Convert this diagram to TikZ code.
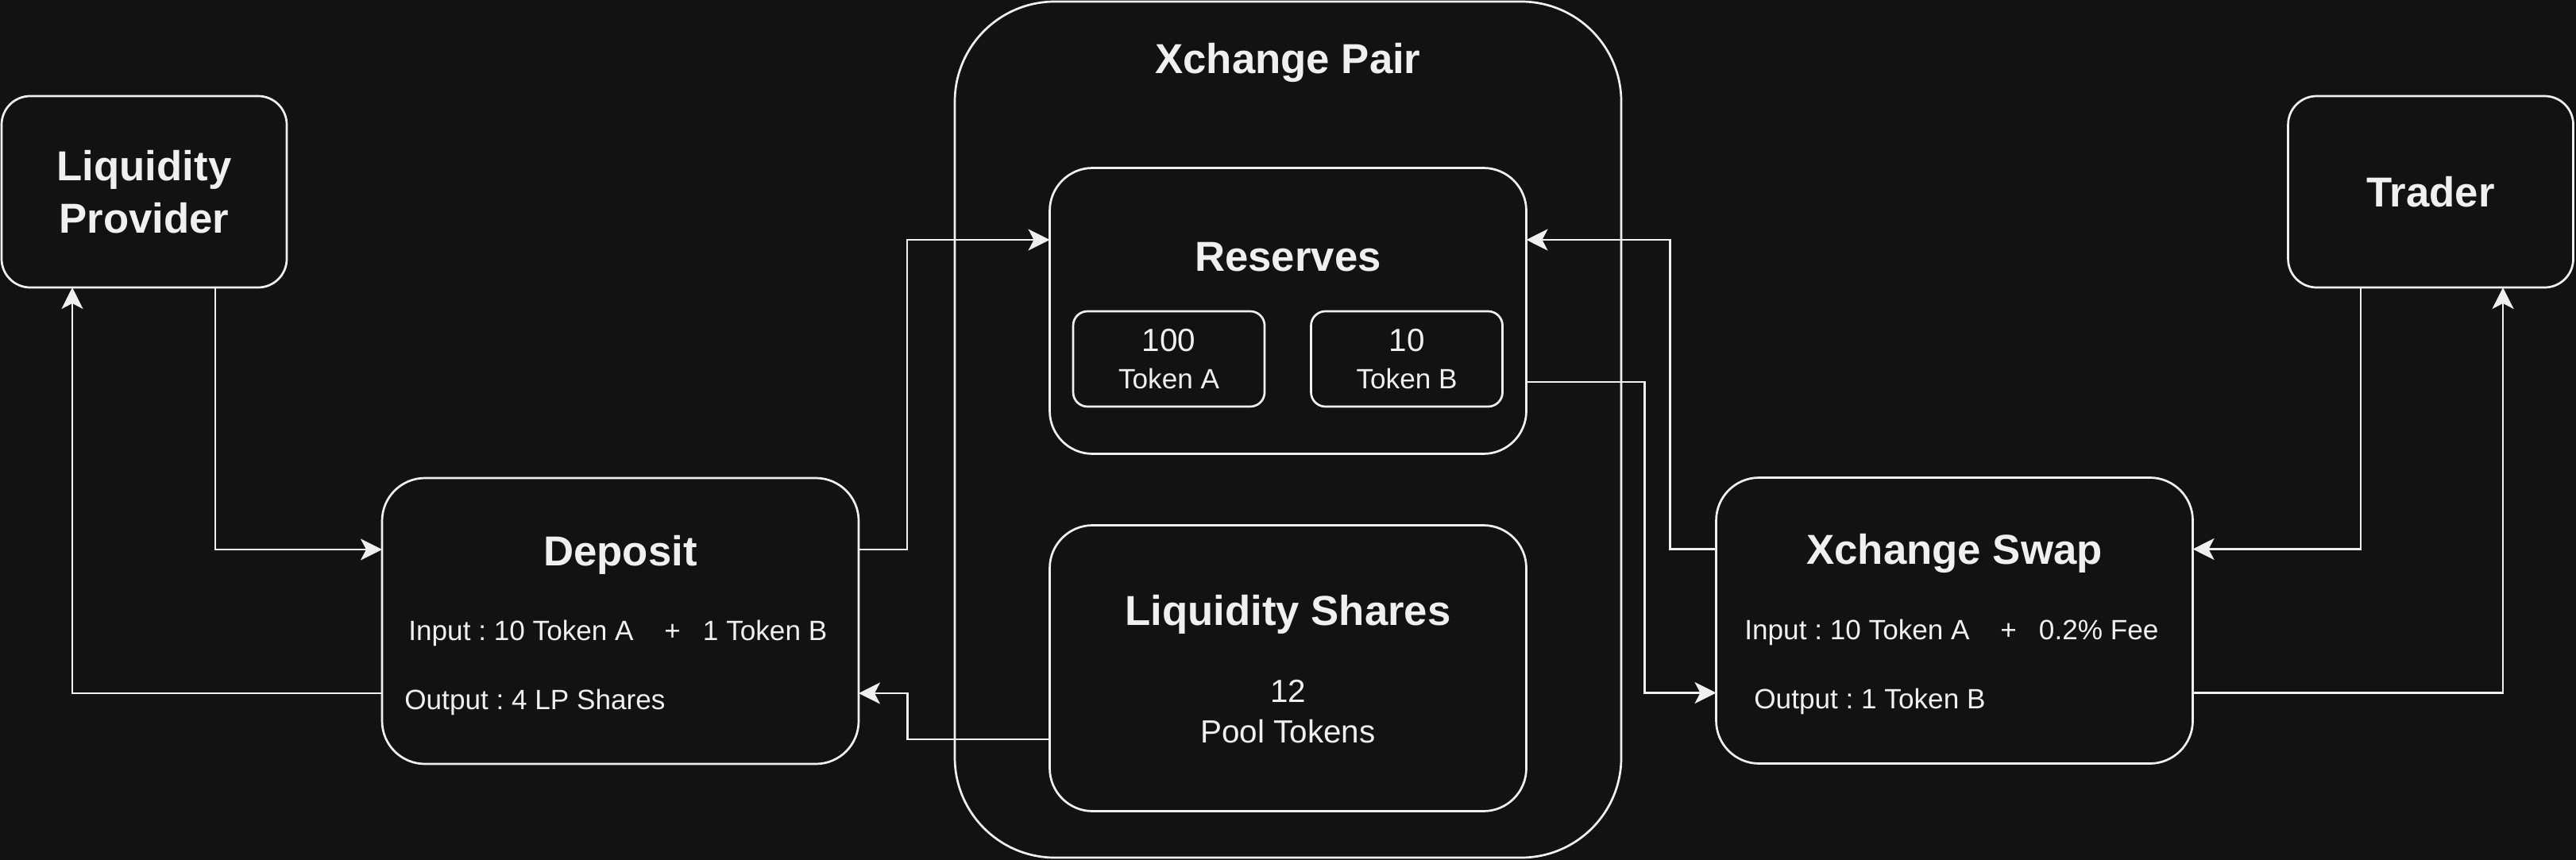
\documentclass[tikz,border=0pt]{standalone}
\usepackage{fontspec}
\setmainfont{Liberation Sans}
\usepackage{xcolor}
\usetikzlibrary{arrows.meta,positioning}
\definecolor{bg}{RGB}{18,18,18}
\definecolor{fg}{RGB}{240,240,240}
\frenchspacing

\begin{document}
\begin{tikzpicture}[
  line width=0.77pt,
  box/.style={draw=fg, text=fg, inner sep=0pt, outer sep=0pt, align=center},
  actor/.style={box, rounded corners=3.6mm, minimum width=35.9mm, minimum height=24.1mm, font=\fontsize{15}{18.8}\selectfont\bfseries},
  stage/.style={box, rounded corners=5.4mm, minimum width=60mm, minimum height=36mm},
  token/.style={box, rounded corners=1.8mm, minimum width=24.1mm, minimum height=12mm},
  ttl/.style={text=fg, font=\fontsize{15}{18}\selectfont\bfseries, anchor=base, inner sep=0pt},
  num/.style={text=fg, font=\fontsize{11.5}{14}\selectfont, anchor=base, inner sep=0pt},
  sub/.style={text=fg, font=\fontsize{10}{12}\selectfont, anchor=base, inner sep=0pt},
  txt/.style={text=fg, font=\fontsize{10}{12}\selectfont, anchor=base west, inner sep=0pt},
  arr/.style={draw=fg, -{Stealth[length=2.7mm, width=2.7mm, inset=0.7mm]}},
]
\fill[bg] (0,0) rectangle (32.43,-10.83);
\useasboundingbox (0,0) rectangle (32.43,-10.83);

% actors
\node[actor] (lp) at (1.815,-2.415) {Liquidity\\Provider};
\node[actor] (trader) at (30.60,-2.415) {Trader};

% the pair and what it holds
\node[box, rounded corners=12.6mm, minimum width=83.9mm, minimum height=107.8mm] (pair) at (16.215,-5.41) {};
\node[ttl] (pairttl) at (16.215,-0.93) {Xchange Pair};
\node[stage] (reserves) at (16.215,-3.915) {};
\node[ttl] (resttl) at (16.215,-3.42) {Reserves};
\node[token] (toka) at (14.715,-4.52) {};
\node[token] (tokb) at (17.71,-4.52) {};
\node[num] (toka num) at (14.715,-4.42) {100};
\node[sub] (toka lbl) at (14.715,-4.89) {Token A};
\node[num] (tokb num) at (17.71,-4.42) {10};
\node[sub] (tokb lbl) at (17.71,-4.89) {Token B};
\node[stage] (shares) at (16.215,-8.415) {};
\node[ttl] (shrttl) at (16.215,-7.87) {Liquidity Shares};
\node[num] (shr num) at (16.215,-8.84) {12};
\node[num] (shr lbl) at (16.215,-9.35) {Pool Tokens};

% operations
\node[stage] (deposit) at (7.81,-7.82) {};
\node[ttl] (depttl) at (7.81,-7.12) {Deposit};
\node[txt] (depin) at (5.13,-8.06) {Input : 10 Token A\hspace{1.1em}+\hspace{0.8em}1 Token B};
\node[txt] (depout) at (5.08,-8.93) {Output : 4 LP Shares};
\node[stage] (swap) at (24.605,-7.815) {};
\node[ttl] (swapttl) at (24.605,-7.10) {Xchange Swap};
\node[txt] (swapin) at (21.95,-8.05) {Input : 10 Token A\hspace{1.1em}+\hspace{0.8em}0.2\% Fee};
\node[txt] (swapout) at (22.07,-8.92) {Output : 1 Token B};

% flows
\draw[arr] ([xshift=8.95mm]lp.south) |- ([yshift=9mm]deposit.west);
\draw[arr] ([yshift=-9.1mm]deposit.west) -| ([xshift=-9.05mm]lp.south);
\draw[arr] ([yshift=9mm]deposit.east) -- ++(6.1mm,0) |- ([yshift=8.95mm]reserves.west);
\draw[arr] ([yshift=-8.95mm]shares.west) -- ++(-17.9mm,0) |- ([yshift=-9.1mm]deposit.east);
\draw[arr] ([yshift=9mm]swap.west) -- ++(-5.8mm,0) |- ([yshift=8.95mm]reserves.east);
\draw[arr] ([yshift=-8.95mm]reserves.east) -- ++(14.9mm,0) |- ([yshift=-9.1mm]swap.west);
\draw[arr] ([xshift=-8.8mm]trader.south) |- ([yshift=9mm]swap.east);
\draw[arr] ([yshift=-9.1mm]swap.east) -| ([xshift=9.1mm]trader.south);
\end{tikzpicture}
\end{document}
